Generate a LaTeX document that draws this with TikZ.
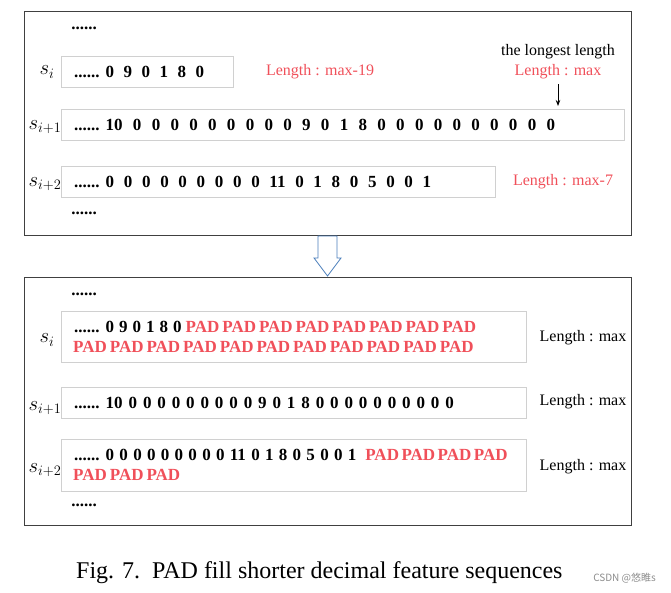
\documentclass[tikz,border=0pt]{standalone}
\usetikzlibrary{arrows.meta}
\usepackage{fontspec}
\setmainfont{Liberation Serif}
\newfontfamily\cjk{Noto Sans CJK SC}
\definecolor{redt}{HTML}{F0505A}
\definecolor{boxg}{HTML}{D0D0D0}
\definecolor{arrb}{HTML}{4A7EBB}
\newcommand{\dd}{\mbox{......}\hspace{6pt}}
\begin{document}
\begin{tikzpicture}[x=1pt,y=-1pt,
  frame/.style={draw=black!75,line width=0.8pt},
  seqbox/.style={draw=boxg,line width=0.8pt},
  seq/.style={anchor=west,inner sep=0pt,font=\fontsize{17}{20}\selectfont\bfseries},
  lab/.style={inner sep=0pt,font=\fontsize{22}{22}\selectfont},
  rt/.style={inner sep=0pt,font=\fontsize{16}{18}\selectfont,text=redt},
  bt/.style={inner sep=0pt,font=\fontsize{16}{18}\selectfont},
  dots/.style={inner sep=0pt,font=\fontsize{17}{17}\selectfont\bfseries}]
\useasboundingbox (0,0) rectangle (671,592);
% top
\draw[frame] (24,11) rectangle (631,235);
\node[dots] (d1) at (84,28) {......};
\node[dots] (d2) at (84,213) {......};
\draw[seqbox] (61,56) rectangle (233,87);
\draw[seqbox] (61,109) rectangle (624,140);
\draw[seqbox] (61,166) rectangle (495,197);
\node[lab] (l1) at (47,72) {$s_i$};
\node[lab] (l2) at (45,127) {$s_{i+1}$};
\node[lab] (l3) at (45,184) {$s_{i+2}$};
\node[seq] (t1) at (74,72) {\spaceskip=9.5pt plus 0pt\dd 0 9 0 1 8 0};
\node[seq] (t2) at (74,125) {\spaceskip=10.3pt plus 0pt\dd 10 0 0 0 0 0 0 0 0 0 9 0 1 8 0 0 0 0 0 0 0 0 0 0};
\node[seq] (t3) at (74,182) {\spaceskip=9.7pt plus 0pt\dd 0 0 0 0 0 0 0 0 0 11 0 1 8 0 5 0 0 1};
\node[rt] (r1) at (320,72) {Length : max-19};
\node[bt] (lg) at (558,52) {the longest length};
\node[rt] (r2) at (558,72) {Length : max};
\node[rt] (r3) at (563,182) {Length : max-7};
\coordinate (a1) at (558,84);
\coordinate (a2) at (558,106);
\draw[-{Stealth[length=6pt,width=4.5pt]},line width=0.8pt] (a1) -- (a2);
% hollow arrow
\draw[arrb,line width=0.8pt,fill=white] (318,236) -- (337,236) -- (337,258) -- (341,258) -- (327.5,276) -- (314,258) -- (318,258) -- cycle;
% bottom
\draw[frame] (24,277) rectangle (631,525);
\node[dots] (d3) at (84,294) {......};
\node[dots] (d4) at (84,505) {......};
\draw[seqbox] (61,311) rectangle (526,362);
\draw[seqbox] (61,387) rectangle (526,418);
\draw[seqbox] (61,439) rectangle (526,491);
\node[lab] (m1) at (47,340) {$s_i$};
\node[lab] (m2) at (45,408) {$s_{i+1}$};
\node[lab] (m3) at (45,470) {$s_{i+2}$};
\node[seq] (u1) at (74,327) {\spaceskip=5pt plus 0pt\dd 0 9 0 1 8 0\hspace{4pt}\textcolor{redt}{\spaceskip=3pt plus 0pt PAD PAD PAD PAD PAD PAD PAD PAD}};
\node[seq,text=redt] (u1b) at (73,347) {\spaceskip=3pt plus 0pt PAD PAD PAD PAD PAD PAD PAD PAD PAD PAD PAD};
\node[seq] (u2) at (74,403) {\spaceskip=5.9pt plus 0pt\dd 10 0 0 0 0 0 0 0 0 0 9 0 1 8 0 0 0 0 0 0 0 0 0 0};
\node[seq] (u3) at (74,455) {\spaceskip=5.3pt plus 0pt\dd 0 0 0 0 0 0 0 0 0 11 0 1 8 0 5 0 0 1\hspace{9pt}\textcolor{redt}{\spaceskip=2.5pt plus 0pt PAD PAD PAD PAD}};
\node[seq,text=redt] (u3b) at (73,475) {\spaceskip=3pt plus 0pt PAD PAD PAD};
\node[bt] (b1) at (583,338) {Length : max};
\node[bt] (b2) at (583,402) {Length : max};
\node[bt] (b3) at (583,467) {Length : max};
% caption
\node[inner sep=0pt,anchor=west,font=\fontsize{24}{26}\selectfont] (cap) at (76,573) {Fig. 7.\ \ PAD fill shorter decimal feature sequences};
\node[inner sep=0pt,anchor=east,font=\cjk\fontsize{10}{12}\selectfont,text=black!45] (wm) at (656,578) {CSDN @悠睢s};
\end{tikzpicture}
\end{document}
